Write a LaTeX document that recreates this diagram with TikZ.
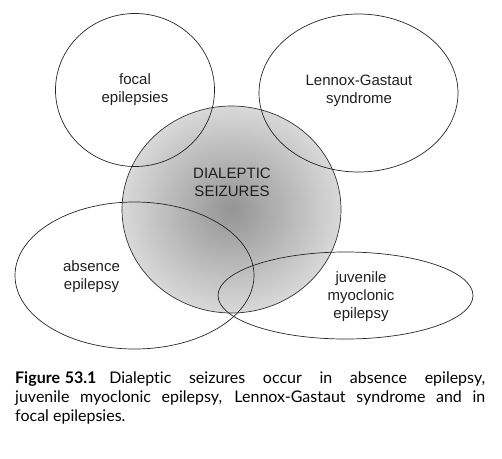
\documentclass[tikz,border=0pt]{standalone}
\usepackage{fontspec}
\setmainfont{Liberation Sans}
\newfontfamily\capfont[Ligatures=NoCommon]{Lato}
\usetikzlibrary{shapes.geometric, positioning}
\tikzset{
  region/.style={ellipse, draw=black!85, line width=0.7pt, inner sep=0pt},
  seizure/.style={ellipse, draw=black!80, line width=0.7pt, inner sep=0pt,
                  inner color=black!42, outer color=black!15},
  lbl/.style={align=center, text=black!88, inner sep=0pt,
              font=\fontsize{15}{18}\selectfont},
  caption/.style={text width=470pt, align=justify, inner sep=0pt,
                  font=\capfont\fontsize{16}{19}\selectfont},
}
\begin{document}
\begin{tikzpicture}[x=1pt, y=-1pt]
  \useasboundingbox (0,0) rectangle (502,458);

  % shaded central region first, outlines on top
  \node[seizure, minimum width=219pt, minimum height=207pt] (dial) at (231.5,209.5) {};

  \node[region, minimum width=159pt, minimum height=153pt] (focal)  at (135,90)    {};
  \node[region, minimum width=199pt, minimum height=158pt] (lennox) at (358.5,93)  {};
  \node[region, minimum width=239pt, minimum height=147pt] (absence) at (134.5,275.5) {};
  \node[region, minimum width=255pt, minimum height=87pt]  (juvenile) at (345.5,295.5) {};

  \node[lbl] (focaltxt)  at (135,90)  {focal\\epilepsies};
  \node[lbl] (lennoxtxt) at (359,91)  {Lennox-Gastaut\\syndrome};
  \node[lbl] (dialtxt)   at (232,182) {DIALEPTIC\\SEIZURES};
  \node[lbl] (abstxt)    at (91.5,277) {absence\\epilepsy};
  \node[lbl] (juvtxt)    at (361,297) {juvenile\\myoclonic\\epilepsy};

  \node[caption, anchor=north west] (cap) at (15,371)
    {{\bfseries Figure\hspace*{0.3em}53.1}\hspace*{0.8em}Dialeptic seizures occur in absence epilepsy,\linebreak
     juvenile myoclonic epilepsy, Lennox-Gastaut syndrome and in\linebreak
     focal epilepsies.};
\end{tikzpicture}
\end{document}
